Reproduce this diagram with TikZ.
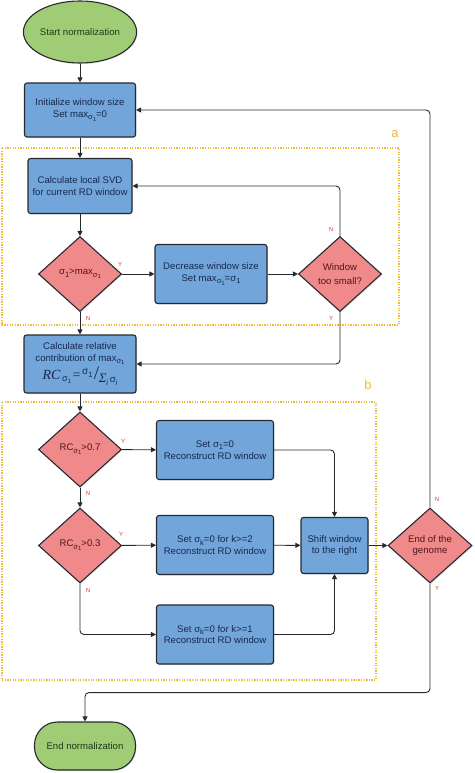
\documentclass[tikz,border=0pt]{standalone}
\usepackage{fontspec}
\setmainfont{Liberation Sans}
\newfontfamily\serifit{Liberation Serif}
\usepackage{xcolor}
\usetikzlibrary{positioning,arrows.meta,shapes.geometric,shadows}

\definecolor{boxblue}{RGB}{114,166,219}
\definecolor{boxtext}{RGB}{22,40,78}
\definecolor{diapink}{RGB}{240,138,138}
\definecolor{diatext}{RGB}{80,22,26}
\definecolor{termgreen}{RGB}{160,204,118}
\definecolor{termtext}{RGB}{30,58,22}
\definecolor{dotorange}{RGB}{240,186,52}
\definecolor{ynred}{RGB}{205,60,70}
\definecolor{edgegray}{RGB}{38,42,48}

\newcommand{\lo}[1]{\raisebox{-2.4pt}{\fontsize{7.5}{7.5}\selectfont#1}}
\newcommand{\loo}[1]{\raisebox{-1.4pt}{\fontsize{6}{6}\selectfont#1}}
\newcommand{\sone}{σ\lo{1}}
\newcommand{\maxs}{max\lo{σ\loo{1}}}

\begin{document}
\begin{tikzpicture}[x=1pt,y=-1pt,
  font=\fontsize{9.6}{11.5}\selectfont,
  shade/.style={drop shadow={opacity=0.2,shadow xshift=1pt,shadow yshift=-1.2pt}},
  proc/.style={draw=edgegray,line width=1.1pt,fill=boxblue,rounded corners=2.5pt,
    align=center,text=boxtext,inner sep=0pt,shade},
  decide/.style={diamond,draw=edgegray,line width=1.1pt,fill=diapink,inner sep=0pt,
    align=center,text=diatext,minimum width=83pt,minimum height=75pt,shade},
  term/.style={ellipse,draw=edgegray,line width=1.1pt,fill=termgreen,text=termtext,
    inner sep=0pt,shade},
  stopbox/.style={draw=edgegray,line width=1.1pt,fill=termgreen,text=termtext,
    rounded corners=23pt,inner sep=0pt,shade},
  arr/.style={-{Triangle[length=5pt,width=5pt]},line width=0.9pt,draw=edgegray,rounded corners=4pt},
  yn/.style={font=\fontsize{6}{6}\selectfont,text=ynred},
  dotbox/.style={draw=dotorange,line width=1.3pt,dash pattern=on 1.3pt off 1.3pt},
  grp/.style={font=\fontsize{13}{13}\selectfont,text=dotorange}]
\useasboundingbox (0,0) rectangle (474,773);

% groups
\draw[dotbox] (2,148) rectangle (399,325);
\draw[dotbox] (2,402) rectangle (376,680);
\node[grp] (laba) at (395,134) {a};
\node[grp] (labb) at (368,385) {b};

% nodes
\node[term,minimum width=98pt,minimum height=62pt] (start) at (80,32) {Start normalization};
\node[proc,minimum width=111pt,minimum height=54pt] (init) at (80,110)
  {Initialize window size\\Set \maxs=0};
\node[proc,minimum width=104pt,minimum height=55pt] (svd) at (80,186)
  {Calculate local SVD\\for current RD window};
\node[decide] (cmp) at (80,274) {\sone>\maxs};
\node[proc,minimum width=112pt,minimum height=59pt] (shrink) at (211,274)
  {Decrease window size\\Set \maxs=\sone};
\node[decide] (small) at (340,274) {Window\\[3pt]too small?};
\node[proc,minimum width=112pt,minimum height=58pt] (rel) at (80,364)
  {Calculate relative\\contribution of \maxs\\[1pt]
   {\serifit\fontsize{14}{14}\selectfont\itshape RC}\,\lo{\fontsize{9}{9}\selectfont σ\loo{1}}\,{\serifit\fontsize{14}{14}\selectfont=}\,%
   \raisebox{4.5pt}{\fontsize{10}{10}\selectfont σ\lo{1}}\kern1.5pt{\serifit\fontsize{19}{19}\selectfont/}\kern-0.5pt%
   \raisebox{-3.5pt}{{\serifit\itshape\fontsize{13}{13}\selectfont Σ}\lo{\itshape i}\,σ\lo{\itshape i}}};
\node[decide] (big) at (80,449.5) {RC\lo{σ\loo{1}}>0.7};
\node[proc,minimum width=117pt,minimum height=59pt] (zero1) at (215,450)
  {Set \sone=0\\Reconstruct RD window};
\node[decide] (mid) at (80,545.5) {RC\lo{σ\loo{1}}>0.3};
\node[proc,minimum width=117pt,minimum height=59pt] (zero2) at (215,545)
  {Set σ\lo{k}=0 for k>=2\\Reconstruct RD window};
\node[proc,minimum width=67pt,minimum height=56pt] (shift) at (334.5,545.5)
  {Shift window\\to the right};
\node[decide,minimum width=84pt] (genome) at (430,545.5) {End of the\\genome};
\node[proc,minimum width=117pt,minimum height=59pt] (zero3) at (215,634.5)
  {Set σ\lo{k}=0 for k>=1\\Reconstruct RD window};
\node[stopbox,minimum width=101pt,minimum height=48pt] (stop) at (85,746) {End normalization};

% connectors
\draw[arr] (start) -- (init);
\draw[arr] (init) -- (svd);
\draw[arr] (svd) -- (cmp);
\draw[arr] (cmp) -- (shrink);
\draw[arr] (shrink) -- (small);
\draw[arr] (small.north) |- (svd.east);
\draw[arr] (cmp) -- (rel);
\draw[arr] (small.south) |- (rel.east);
\draw[arr] (rel) -- (big);
\draw[arr] (big) -- (zero1);
\draw[arr] (big) -- (mid);
\draw[arr] (mid) -- (zero2);
\draw[arr] (mid.south) |- (zero3.west);
\draw[arr] (zero1.east) -| (shift.north);
\draw[arr] (zero2) -- (shift);
\draw[arr] (zero3.east) -| (shift.south);
\draw[arr] (shift) -- (genome);
\draw[arr] (genome.north) |- (init.east);
\draw[arr] (genome.south) -- ++(0,109) -| (stop.north);

% Y / N labels
\node[yn] (cmpy) at (120,264) {Y};
\node[yn] (cmpn) at (88,318) {N};
\node[yn] (smalln) at (331,229) {N};
\node[yn] (smally) at (331,318) {Y};
\node[yn] (bigy) at (123,441) {Y};
\node[yn] (bign) at (88,493) {N};
\node[yn] (midy) at (121,534) {Y};
\node[yn] (midn) at (88,590) {N};
\node[yn] (genomen) at (437,499) {N};
\node[yn] (genomey) at (437,588) {Y};
\end{tikzpicture}
\end{document}
